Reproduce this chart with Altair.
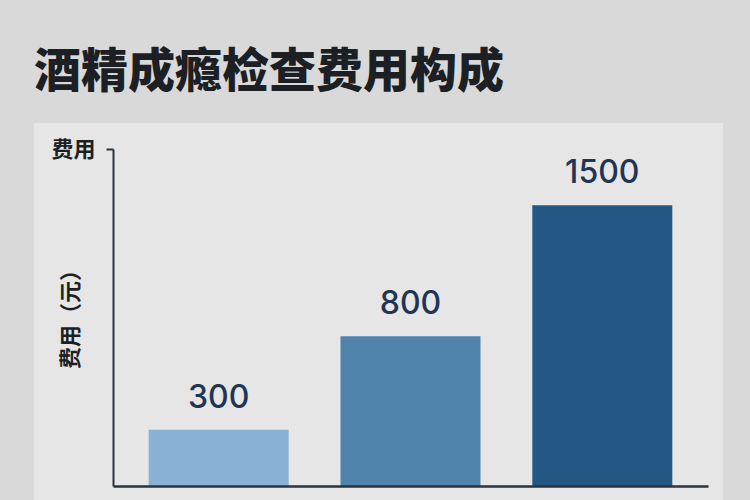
import altair as alt
import pandas as pd

# Cost items and their amounts (yuan)
items = ["基础检查", "血液检测", "专科评估"]
costs = [300, 800, 1500]
bar_colors = ["#88b2d5", "#4f83ab", "#245784"]

df = pd.DataFrame({"项目": items, "费用": costs})

CJK = "Noto Sans CJK SC"
W, H = 595, 337

x_enc = alt.X(
    "项目:N",
    sort=items,
    scale=alt.Scale(paddingInner=0.27, paddingOuter=0.186),
    axis=alt.Axis(
        labels=False, ticks=False, title=None,
        domainColor="#2b333d", domainWidth=2.5, zindex=2,
    ),
)
y_enc = alt.Y(
    "费用:Q",
    scale=alt.Scale(domain=[0, 1800], nice=False),
    axis=alt.Axis(
        values=[1800],
        labelExpr="'费用'",
        labelFont=CJK, labelFontSize=22, labelFontWeight="bold",
        labelColor="#1c1f24", labelPadding=11,
        tickSize=7, tickColor="#2b333d", tickWidth=2,
        domainColor="#2b333d", domainWidth=2,
        grid=False, zindex=2,
        title="费用（元）",
        titleFont=CJK, titleFontSize=22, titleFontWeight="bold",
        titleColor="#1c1f24",
        titleX=-43, titleY=H / 2 - 4,
        titleAlign="center", titleBaseline="middle", titleAngle=-90,
    ),
)

# Lighter panel behind the plot
panel = alt.Chart(df).mark_rect(color="#e6e6e6").encode(
    x=alt.value(-79), x2=alt.value(610),
    y=alt.value(-26), y2=alt.value(400),
)

bars = alt.Chart(df).mark_bar().encode(
    x=x_enc,
    y=y_enc,
    color=alt.Color("项目:N", scale=alt.Scale(domain=items, range=bar_colors), legend=None),
)

labels = alt.Chart(df).mark_text(
    baseline="bottom", dy=-15, font="Inter", fontSize=32, fontWeight=500,
    color="#1f3553",
).encode(
    x=alt.X("项目:N", sort=items),
    y=alt.Y("费用:Q"),
    text=alt.Text("费用:Q", format="d"),
)

chart = alt.layer(panel, bars, labels).properties(
    width=W,
    height=H,
    background="#d9d9d9",
    padding={"left": 113, "top": 149, "right": 42, "bottom": 14},
    autosize=alt.AutoSizeParams(type="none"),
    title=alt.TitleParams(
        "酒精成瘾检查费用构成",
        anchor="start", frame="group",
        font=CJK, fontSize=47, fontWeight=900, color="#1c1f24",
        baseline="alphabetic", dx=-79, offset=0, dy=11,
    ),
).configure_view(stroke=None)

chart.save("out.html", embed_options={"renderer": "svg", "actions": False})
